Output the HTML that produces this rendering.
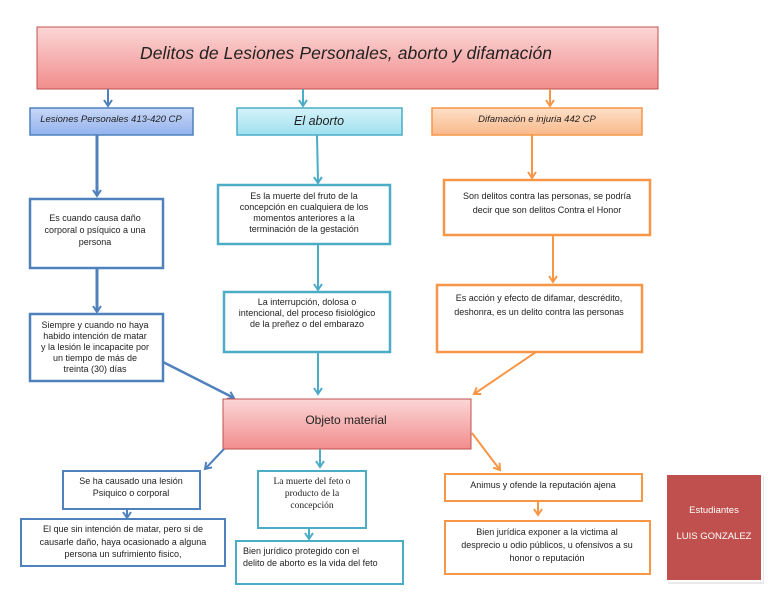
<!DOCTYPE html>
<html><head><meta charset="utf-8"><style>
html,body{margin:0;padding:0;background:#fff;}
svg{display:block;}
text{font-family:"Liberation Sans",sans-serif;font-size:9px;fill:#222;}
</style></head><body>
<svg width="768" height="594" viewBox="0 0 768 594" xmlns="http://www.w3.org/2000/svg">
<defs>
<linearGradient id="gr" x1="0" y1="0" x2="0" y2="1"><stop offset="0" stop-color="#fbd6d6"/><stop offset="1" stop-color="#f28d8d"/></linearGradient>
<linearGradient id="gb" x1="0" y1="0" x2="0" y2="1"><stop offset="0" stop-color="#c8d8f7"/><stop offset="1" stop-color="#93b2ee"/></linearGradient>
<linearGradient id="gt" x1="0" y1="0" x2="0" y2="1"><stop offset="0" stop-color="#d6f3fa"/><stop offset="1" stop-color="#9ee0ef"/></linearGradient>
<linearGradient id="go" x1="0" y1="0" x2="0" y2="1"><stop offset="0" stop-color="#fde0c8"/><stop offset="1" stop-color="#f9b98a"/></linearGradient>
<marker id="ab" markerWidth="10" markerHeight="10" refX="7" refY="5" orient="auto" markerUnits="userSpaceOnUse"><path d="M1,1 L7,5 L1,9" fill="none" stroke="#4f81bd" stroke-width="2"/></marker>
<marker id="at" markerWidth="10" markerHeight="10" refX="7" refY="5" orient="auto" markerUnits="userSpaceOnUse"><path d="M1,1 L7,5 L1,9" fill="none" stroke="#4bacc6" stroke-width="2"/></marker>
<marker id="ao" markerWidth="10" markerHeight="10" refX="7" refY="5" orient="auto" markerUnits="userSpaceOnUse"><path d="M1,1 L7,5 L1,9" fill="none" stroke="#f79646" stroke-width="2"/></marker>
</defs>

<rect x="37" y="27" width="621" height="62" fill="url(#gr)" stroke="#c0504d" stroke-width="1"/>
<text x="346" y="59" text-anchor="middle" style="font-size:17.5px;font-style:italic" textLength="412">Delitos de Lesiones Personales, aborto y difamación</text>

<line x1="108" y1="89" x2="108" y2="106" stroke="#4f81bd" stroke-width="2" marker-end="url(#ab)"/>
<line x1="303" y1="89" x2="303" y2="106" stroke="#4bacc6" stroke-width="2" marker-end="url(#at)"/>
<line x1="550" y1="89" x2="550" y2="106" stroke="#f79646" stroke-width="2" marker-end="url(#ao)"/>

<rect x="30" y="108" width="163" height="27" fill="url(#gb)" stroke="#4f81bd" stroke-width="1.5"/>
<text x="111" y="122" text-anchor="middle" style="font-style:italic;font-size:9.5px">Lesiones Personales 413-420 CP</text>
<rect x="237" y="108" width="165" height="27" fill="url(#gt)" stroke="#4bacc6" stroke-width="1.5"/>
<text x="319" y="125" text-anchor="middle" style="font-style:italic;font-size:12.5px">El aborto</text>
<rect x="432" y="108" width="210" height="27" fill="url(#go)" stroke="#f79646" stroke-width="1.5"/>
<text x="537" y="122" text-anchor="middle" style="font-style:italic;font-size:9.5px">Difamación e injuria 442 CP</text>

<line x1="97" y1="135" x2="97" y2="196" stroke="#4f81bd" stroke-width="3" marker-end="url(#ab)"/>
<line x1="317" y1="135" x2="318" y2="183" stroke="#4bacc6" stroke-width="2" marker-end="url(#at)"/>
<line x1="532" y1="135" x2="532" y2="178" stroke="#f79646" stroke-width="2" marker-end="url(#ao)"/>

<rect x="30" y="199" width="133" height="69" fill="#fff" stroke="#4f81bd" stroke-width="2.5"/>
<text x="95" y="221" text-anchor="middle">Es cuando causa daño</text>
<text x="95" y="233" text-anchor="middle">corporal o psíquico a una</text>
<text x="95" y="245" text-anchor="middle">persona</text>

<rect x="218" y="185" width="172" height="59" fill="#fff" stroke="#4bacc6" stroke-width="2.5"/>
<text x="304" y="199" text-anchor="middle">Es la muerte del fruto de la</text>
<text x="304" y="210" text-anchor="middle">concepción en cualquiera de los</text>
<text x="304" y="221" text-anchor="middle">momentos anteriores a la</text>
<text x="304" y="232" text-anchor="middle">terminación de la gestación</text>

<rect x="444" y="180" width="206" height="55" fill="#fff" stroke="#f79646" stroke-width="2.5"/>
<text x="547" y="199" text-anchor="middle">Son delitos contra las personas, se podría</text>
<text x="547" y="213" text-anchor="middle">decir que son delitos Contra el Honor</text>

<line x1="97" y1="268" x2="97" y2="312" stroke="#4f81bd" stroke-width="3" marker-end="url(#ab)"/>
<line x1="318" y1="244" x2="318" y2="290" stroke="#4bacc6" stroke-width="2" marker-end="url(#at)"/>
<line x1="553" y1="235" x2="553" y2="282" stroke="#f79646" stroke-width="2" marker-end="url(#ao)"/>

<rect x="30" y="314" width="133" height="67" fill="#fff" stroke="#4f81bd" stroke-width="2.5"/>
<text x="95" y="328" text-anchor="middle">Siempre y cuando no haya</text>
<text x="95" y="339" text-anchor="middle">habido intención de matar</text>
<text x="95" y="350" text-anchor="middle">y la lesión le incapacite por</text>
<text x="95" y="361" text-anchor="middle">un tiempo de más de</text>
<text x="95" y="372" text-anchor="middle">treinta (30) días</text>

<rect x="224" y="292" width="166" height="60" fill="#fff" stroke="#4bacc6" stroke-width="2.5"/>
<text x="307" y="305" text-anchor="middle">La interrupción, dolosa o</text>
<text x="307" y="316" text-anchor="middle">intencional, del proceso fisiológico</text>
<text x="307" y="327" text-anchor="middle">de la preñez o del embarazo</text>

<rect x="437" y="285" width="205" height="67" fill="#fff" stroke="#f79646" stroke-width="2.5"/>
<text x="539" y="301" text-anchor="middle">Es acción y efecto de difamar, descrédito,</text>
<text x="539" y="315" text-anchor="middle">deshonra, es un delito contra las personas</text>

<line x1="163" y1="362" x2="234" y2="398" stroke="#4f81bd" stroke-width="2.5" marker-end="url(#ab)"/>
<line x1="318" y1="352" x2="318" y2="394" stroke="#4bacc6" stroke-width="2" marker-end="url(#at)"/>
<line x1="536" y1="352" x2="474" y2="394" stroke="#f79646" stroke-width="2" marker-end="url(#ao)"/>

<rect x="223" y="399" width="248" height="50" fill="url(#gr)" stroke="#c0504d" stroke-width="1"/>
<text x="346" y="424" text-anchor="middle" style="font-size:12px">Objeto material</text>

<line x1="224" y1="449" x2="205" y2="469" stroke="#4f81bd" stroke-width="2" marker-end="url(#ab)"/>
<line x1="320" y1="449" x2="320" y2="467" stroke="#4bacc6" stroke-width="2" marker-end="url(#at)"/>
<line x1="472" y1="433" x2="500" y2="470" stroke="#f79646" stroke-width="2" marker-end="url(#ao)"/>

<rect x="63" y="471" width="137" height="38" fill="#fff" stroke="#4f81bd" stroke-width="2"/>
<text x="131" y="484" text-anchor="middle">Se ha causado una lesión</text>
<text x="131" y="496" text-anchor="middle">Psiquico o corporal</text>
<line x1="127" y1="509" x2="127" y2="518" stroke="#4f81bd" stroke-width="2" marker-end="url(#ab)"/>
<rect x="21" y="519" width="204" height="47" fill="#fff" stroke="#4f81bd" stroke-width="2"/>
<text x="123" y="532" text-anchor="middle">El que sin intención de matar, pero si de</text>
<text x="123" y="545" text-anchor="middle">causarle daño, haya ocasionado a alguna</text>
<text x="123" y="557" text-anchor="middle">persona un sufrimiento fisico,</text>

<rect x="258" y="471" width="108" height="57" fill="#fff" stroke="#4bacc6" stroke-width="2"/>
<text x="312" y="484" text-anchor="middle" style="font-family:'Liberation Serif',serif;font-size:9.5px">La muerte del feto o</text>
<text x="312" y="496" text-anchor="middle" style="font-family:'Liberation Serif',serif;font-size:9.5px">producto de la</text>
<text x="312" y="508" text-anchor="middle" style="font-family:'Liberation Serif',serif;font-size:9.5px">concepción</text>
<line x1="309" y1="528" x2="309" y2="539" stroke="#4bacc6" stroke-width="2" marker-end="url(#at)"/>
<rect x="236" y="541" width="167" height="43" fill="#fff" stroke="#4bacc6" stroke-width="2"/>
<text x="243" y="554">Bien jurídico protegido con el</text>
<text x="243" y="566">delito de aborto es la vida del feto</text>

<rect x="445" y="474" width="197" height="27" fill="#fff" stroke="#f79646" stroke-width="2"/>
<text x="543" y="488" text-anchor="middle">Animus y ofende la reputación ajena</text>
<line x1="538" y1="501" x2="538" y2="515" stroke="#f79646" stroke-width="2" marker-end="url(#ao)"/>
<rect x="445" y="521" width="205" height="53" fill="#fff" stroke="#f79646" stroke-width="2"/>
<text x="547" y="535" text-anchor="middle">Bien jurídica exponer a la victima al</text>
<text x="547" y="548" text-anchor="middle">desprecio u odio públicos, u ofensivos a su</text>
<text x="547" y="561" text-anchor="middle">honor o reputación</text>

<rect x="668" y="476" width="96" height="108" fill="#d3d3d3" opacity="0.5"/>
<rect x="666" y="474" width="96" height="107" fill="#c0504d" stroke="#fff" stroke-width="2"/>
<text x="714" y="513" text-anchor="middle" style="fill:#fff;font-size:9.5px">Estudiantes</text>
<text x="714" y="539" text-anchor="middle" style="fill:#fff;font-size:9.5px">LUIS GONZALEZ</text>
</svg>
</body></html>
